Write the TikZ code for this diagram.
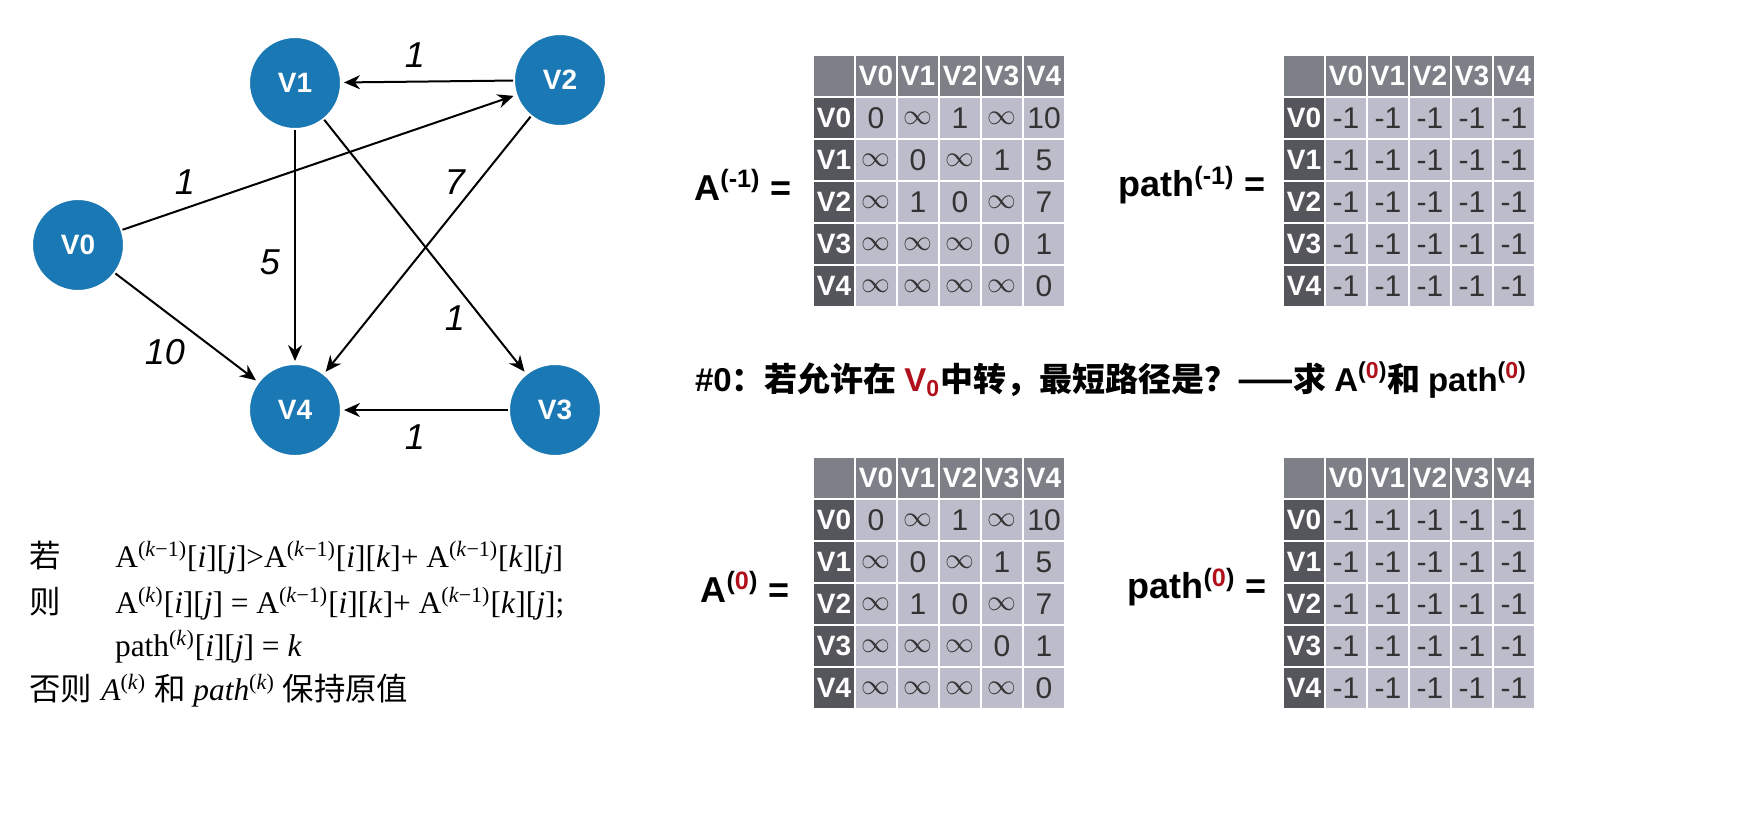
\documentclass[tikz,border=0pt]{standalone}
\usepackage{fontspec}
\setmainfont{Liberation Serif}
\setsansfont{Liberation Sans}
\newfontfamily\cjk{Noto Sans CJK SC}
\usetikzlibrary{arrows.meta}
\definecolor{vblue}{HTML}{1A78B4}
\definecolor{hdgray}{HTML}{7E8088}
\definecolor{rowgray}{HTML}{55565C}
\definecolor{cellgray}{HTML}{BCBCCA}
\definecolor{darkred}{HTML}{B0101A}
\tikzset{
  vert/.style={circle, fill=vblue, draw=white, line width=1pt, minimum size=46pt, inner sep=0,
    text=white, font=\sffamily\bfseries\fontsize{14}{14}\selectfont},
  edge/.style={-{Stealth[length=8pt,width=7pt]}, line width=1pt, shorten >=1pt},
  wt/.style={font=\sffamily\itshape\fontsize{18}{18}\selectfont},
  cellbase/.style={minimum width=21pt, minimum height=21pt, inner sep=0, draw=white, line width=1pt},
  cell/.style={cellbase, fill=cellgray, text=black!80, font=\sffamily\fontsize{15}{15}\selectfont},
  hd/.style={cellbase, fill=hdgray, text=white, font=\sffamily\bfseries\fontsize{14}{14}\selectfont},
  rh/.style={cellbase, fill=rowgray, text=white, font=\sffamily\bfseries\fontsize{14}{14}\selectfont},
  lbl/.style={font=\sffamily\bfseries\fontsize{18}{18}\selectfont, anchor=center},
  rule/.style={anchor=base west, font=\fontsize{15.7}{17}\selectfont},
}
% #1 x, #2 y (top left, px), #3 name, #4 rows
\newcommand\gridtable[4]{
  \node[hd] (#3-0-0) at (#1+21, #2+21) {};
  \foreach \h [count=\c] in {V0,V1,V2,V3,V4} {
    \node[hd] (#3-0-\c) at (#1+21+42*\c, #2+21) {\h};
    \node[rh] (#3-\c-0) at (#1+21, #2+21+42*\c) {\h};
  }
  \foreach \row [count=\r] in {#4} {
    \foreach \v [count=\c] in \row {
      \node[cell] (#3-\r-\c) at (#1+21+42*\c, #2+21+42*\r) {\v};
    }
  }
}
\begin{document}
\begin{tikzpicture}[x=0.5pt, y=-0.5pt]
\useasboundingbox (0,0) rectangle (1743,821);
% graph
\node[vert] (v0) at (78,245) {V0};
\node[vert] (v1) at (295,83) {V1};
\node[vert] (v2) at (560,80) {V2};
\node[vert] (v3) at (555,410) {V3};
\node[vert] (v4) at (295,410) {V4};
\draw[edge] (v2) -- (v1);
\draw[edge] (v0) -- (v2);
\draw[edge] (v1) -- (v4);
\draw[edge] (v2) -- (v4);
\draw[edge] (v1) -- (v3);
\draw[edge] (v0) -- (v4);
\draw[edge] (v3) -- (v4);
\node[wt] (w21) at (415,55) {1};
\node[wt] (w02) at (185,182) {1};
\node[wt] (w14) at (270,262) {5};
\node[wt] (w24) at (455,182) {7};
\node[wt] (w13) at (455,318) {1};
\node[wt] (w04) at (165,352) {10};
\node[wt] (w34) at (415,437) {1};
% rules
\node[rule] (r1) at (22,567) {{\cjk 若}\hspace{1.75em}A\textsuperscript{(\textit{k}−1)}[\textit{i}][\textit{j}]>A\textsuperscript{(\textit{k}−1)}[\textit{i}][\textit{k}]+ A\textsuperscript{(\textit{k}−1)}[\textit{k}][\textit{j}]};
\node[rule] (r2) at (22,613) {{\cjk 则}\hspace{1.75em}A\textsuperscript{(\textit{k})}[\textit{i}][\textit{j}] = A\textsuperscript{(\textit{k}−1)}[\textit{i}][\textit{k}]+ A\textsuperscript{(\textit{k}−1)}[\textit{k}][\textit{j}];};
\node[rule] (r3) at (108,656) {path\textsuperscript{(\textit{k})}[\textit{i}][\textit{j}] = \textit{k}};
\node[rule] (r4) at (22,700) {{\cjk 否则}\hspace{0.3em}\textit{A}\textsuperscript{(\textit{k})} {\cjk 和} \textit{path}\textsuperscript{(\textit{k})} {\cjk 保持原值}};
% tables
\gridtable{813}{55}{a}{{0,$\infty$,1,$\infty$,10},{$\infty$,0,$\infty$,1,5},{$\infty$,1,0,$\infty$,7},{$\infty$,$\infty$,$\infty$,0,1},{$\infty$,$\infty$,$\infty$,$\infty$,0}}
\gridtable{1283}{55}{p}{{-1,-1,-1,-1,-1},{-1,-1,-1,-1,-1},{-1,-1,-1,-1,-1},{-1,-1,-1,-1,-1},{-1,-1,-1,-1,-1}}
\gridtable{813}{457}{b}{{0,$\infty$,1,$\infty$,10},{$\infty$,0,$\infty$,1,5},{$\infty$,1,0,$\infty$,7},{$\infty$,$\infty$,$\infty$,0,1},{$\infty$,$\infty$,$\infty$,$\infty$,0}}
\gridtable{1283}{457}{q}{{-1,-1,-1,-1,-1},{-1,-1,-1,-1,-1},{-1,-1,-1,-1,-1},{-1,-1,-1,-1,-1},{-1,-1,-1,-1,-1}}
\node[lbl] (la) at (743,185) {A\textsuperscript{(-1)} =};
\node[lbl] (lp) at (1192,185) {path\textsuperscript{(-1)} =};
\node[lbl] (lb) at (745,587) {A\textsuperscript{(\textcolor{darkred}{0})} =};
\node[lbl] (lq) at (1197,587) {path\textsuperscript{(\textcolor{darkred}{0})} =};
\node[lbl, anchor=west, font=\sffamily\bfseries\fontsize{16.5}{17}\selectfont] (mid) at (688,380)
  {\#0{\cjk\bfseries ：若允许在 }\textcolor{darkred}{V\textsubscript{0}}{\cjk\bfseries 中转，最短路径是？——求 }A\textsuperscript{(\textcolor{darkred}{0})}{\cjk\bfseries 和 }path\textsuperscript{(\textcolor{darkred}{0})}};
\end{tikzpicture}
\end{document}
